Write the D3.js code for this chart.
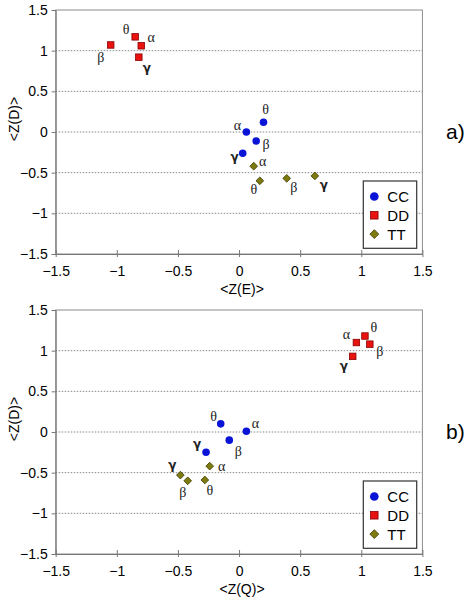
<!DOCTYPE html>
<html>
<head>
<meta charset="utf-8">
<script src="https://cdn.jsdelivr.net/npm/d3@7"></script>
<style>
  body { margin: 0; background: #fff; }
</style>
</head>
<body>
<svg id="chart"></svg>
<script>
// Chart size
const width = 474;
const height = 601;
const sans = "'Liberation Sans', Arial, sans-serif";

// Data: panel a) <Z(E)> vs <Z(D)>, panel b) <Z(Q)> vs <Z(D)>
const groups = ["CC", "DD", "TT"];
const letters = ["α", "β", "γ", "θ"];

const ccA = [[0.06, 0.00], [0.14, -0.11], [0.03, -0.26], [0.20, 0.12]];
const ddA = [[-0.80, 1.06], [-1.05, 1.07], [-0.82, 0.92], [-0.85, 1.17]];
const ttA = [[0.12, -0.42], [0.39, -0.57], [0.62, -0.54], [0.17, -0.60]];

const ccB = [[0.06, 0.01], [-0.08, -0.10], [-0.27, -0.25], [-0.15, 0.10]];
const ddB = [[0.96, 1.10], [1.07, 1.08], [0.93, 0.93], [1.03, 1.18]];
const ttB = [[-0.24, -0.42], [-0.42, -0.60], [-0.48, -0.53], [-0.28, -0.59]];

const xTicks = [-1.5, -1, -0.5, 0, 0.5, 1, 1.5];
const yTicks = [-1.5, -1, -0.5, 0, 0.5, 1, 1.5];
const gridTicks = [-1, -0.5, 0, 0.5, 1];

// label offsets (px) for each greek letter, same order as the data
const labelOffA = {
    CC: [[-9, -7], [10, 3], [-8, 4], [2, -13]],
    DD: [[10, -9], [-10, 12], [8, 11], [-9, -8]],
    TT: [[9, -5], [7, 9], [9, 9], [-6, 8]]
};
const labelOffB = {
    CC: [[9, -8], [9, 11], [-9, -9], [-7, -8]],
    DD: [[-10, -8], [10, 7], [-9, 9], [9, -9]],
    TT: [[12, 0], [-5, 11], [-8, -10], [5, 10]]
};

const colors = { CC: "#0a14d6", DD: "#e8120f", TT: "#7d7a10" };
const strokes = { CC: "#0a14d6", DD: "#8a0000", TT: "#3c3a00" };

const svg = d3.select("#chart")
    .attr("width", width)
    .attr("height", height);

const plotW = 366.7, plotH = 244, left = 55.7;

const x = d3.scaleLinear().domain([-1.5, 1.5]).range([0, plotW]);
const y = d3.scaleLinear().domain([-1.5, 1.5]).range([plotH, 0]);

function marker(g, group, size) {
    if (group === "CC") {
        g.append("circle").attr("r", size * 0.58)
            .attr("fill", colors.CC);
    } else if (group === "DD") {
        g.append("rect")
            .attr("x", -size / 2).attr("y", -size / 2)
            .attr("width", size).attr("height", size)
            .attr("fill", colors.DD)
            .attr("stroke", strokes.DD).attr("stroke-width", 0.8);
    } else {
        g.append("path")
            .attr("d", d3.symbol().type(d3.symbolDiamond2).size(size * size * 0.9)())
            .attr("fill", colors.TT)
            .attr("stroke", strokes.TT).attr("stroke-width", 0.8);
    }
}

function drawPanel(top, series, offsets, xTitle, tag) {
    const g = svg.append("g").attr("transform", `translate(${left},${top})`);

    // dotted gridlines
    g.selectAll(".grid")
        .data(gridTicks)
        .enter().append("line")
        .attr("x1", 0).attr("x2", plotW)
        .attr("y1", d => y(d)).attr("y2", d => y(d))
        .attr("stroke", "#888")
        .attr("stroke-width", 1)
        .attr("stroke-dasharray", "1.5,1.5");

    // frame
    g.append("rect")
        .attr("width", plotW).attr("height", plotH)
        .attr("fill", "none")
        .attr("stroke", "#8c8c8c")
        .attr("stroke-width", 1);

    // axes
    const xAxis = g.append("g")
        .attr("transform", `translate(0,${plotH})`)
        .call(d3.axisBottom(x).tickValues(xTicks).tickFormat(d3.format("")).tickSize(0).tickPadding(12));
    xAxis.select(".domain").attr("stroke", "#777");
    xAxis.selectAll("text").style("font-size", "14px").attr("fill", "#000")
        .style("font-family", sans);
    xAxis.selectAll(".tick").append("line")
        .attr("y1", -4).attr("y2", 3).attr("stroke", "#777");

    const yAxis = g.append("g")
        .call(d3.axisLeft(y).tickValues(yTicks).tickFormat(d3.format("")).tickSize(4).tickPadding(4));
    yAxis.select(".domain").attr("stroke", "#777");
    yAxis.selectAll(".tick line").attr("stroke", "#777");
    yAxis.selectAll("text").style("font-size", "14px").attr("fill", "#000")
        .style("font-family", sans);

    // axis titles
    g.append("text")
        .attr("x", plotW / 2 + 3)
        .attr("y", plotH + 40)
        .attr("text-anchor", "middle")
        .style("font-family", sans)
        .style("font-size", "14px")
        .text(xTitle);

    g.append("text")
        .attr("transform", `translate(${-left + 19},${plotH / 2 - 13}) rotate(-90)`)
        .attr("text-anchor", "middle")
        .style("font-family", sans)
        .style("font-size", "14px")
        .text("<Z(D)>");

    // points
    groups.forEach(grp => {
        const pts = series[grp].map((d, i) => ({ v: d, l: letters[i], o: offsets[grp][i] }));
        const node = g.selectAll(".pt-" + grp)
            .data(pts)
            .enter().append("g")
            .attr("class", "pt-" + grp)
            .attr("transform", d => `translate(${x(d.v[0])},${y(d.v[1])})`);
        node.each(function () { marker(d3.select(this), grp, 6.5); });
        node.append("text")
            .attr("x", d => d.o[0])
            .attr("y", d => d.o[1])
            .attr("dy", "0.35em")
            .attr("text-anchor", "middle")
            .style("font-size", d => d.l === "γ" ? "12px" : "14px")
            .style("font-weight", d => d.l === "γ" ? "bold" : "normal")
            .style("font-family", d => d.l === "γ" ? "'DejaVu Sans', sans-serif" : "'Liberation Serif', serif")
            .attr("fill", "#222")
            .text(d => d.l);
    });

    // legend
    const lg = g.append("g").attr("transform", `translate(${363.3 - left},${181 - 10})`);
    lg.append("rect")
        .attr("width", 53.4).attr("height", 67.3)
        .attr("fill", "#fff")
        .attr("stroke", "#333")
        .attr("stroke-width", 1.2);
    groups.forEach((grp, i) => {
        const row = lg.append("g").attr("transform", `translate(11,${15.5 + i * 18.8})`);
        marker(row, grp, 7.5);
        row.append("text")
            .attr("x", 13)
            .attr("dy", "0.36em")
            .style("font-family", sans)
            .style("font-size", "15px")
            .text(grp);
    });

    // panel tag
    svg.append("text")
        .attr("x", 446)
        .attr("y", top + 121)
        .attr("dy", "0.36em")
        .style("font-family", sans)
        .style("font-size", "21px")
        .text(tag);
}

drawPanel(10, { CC: ccA, DD: ddA, TT: ttA }, labelOffA, "<Z(E)>", "a)");
drawPanel(310, { CC: ccB, DD: ddB, TT: ttB }, labelOffB, "<Z(Q)>", "b)");
</script>
</body>
</html>
